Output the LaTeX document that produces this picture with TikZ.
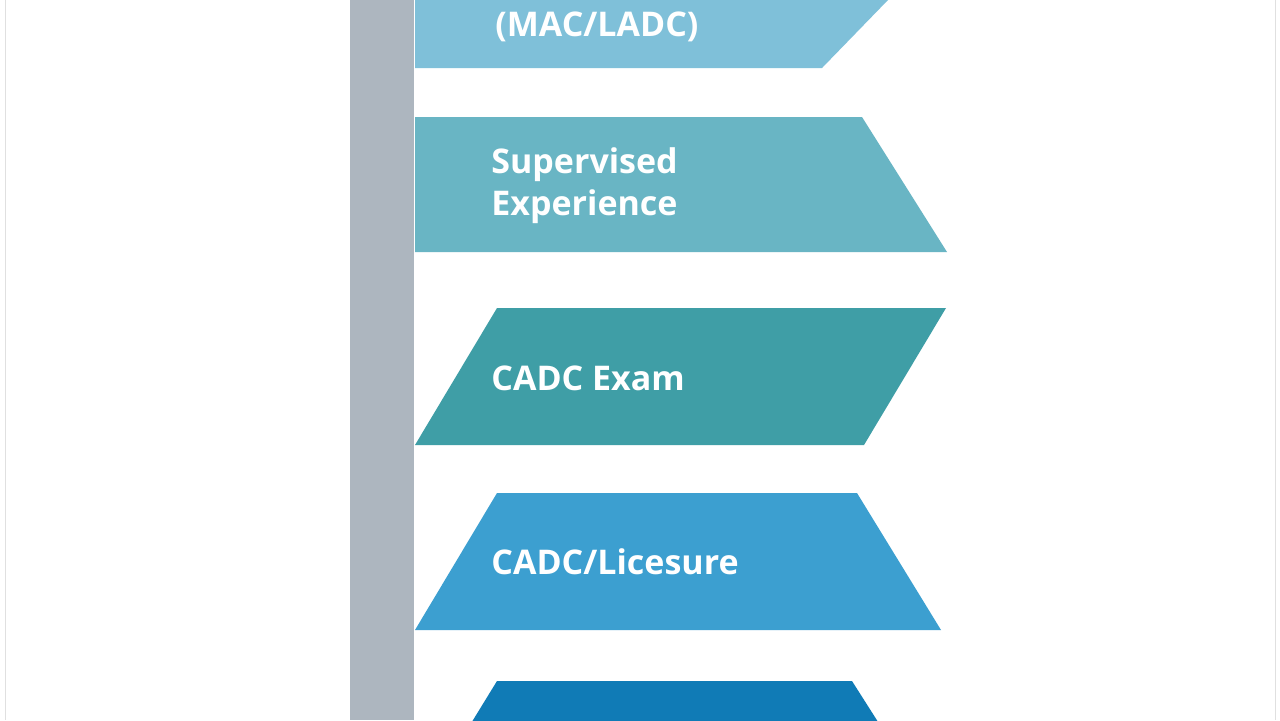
\documentclass[tikz,border=0pt]{standalone}
\usepackage{fontspec}
\setmainfont{Open Sans}
\begin{document}
\begin{tikzpicture}[x=0.5pt,y=-0.5pt,
  lbl/.style={anchor=west,text=white,font=\bfseries\fontsize{17}{21}\selectfont,align=left,inner sep=0pt}]
\definecolor{c1}{HTML}{7FC0D9}
\definecolor{c2}{HTML}{69B5C4}
\definecolor{c3}{HTML}{3F9EA6}
\definecolor{c4}{HTML}{3C9FD0}
\definecolor{c5}{HTML}{107BB6}
\definecolor{bar}{HTML}{ADB6BF}
\useasboundingbox (0,0) rectangle (1280,720);
\fill[white] (0,0) rectangle (1280,720);
\draw[black!12] (5,0) -- (5,720);
\draw[black!12] (1275,0) -- (1275,720);
\fill[bar] (350,0) rectangle (414,720);
\fill[c1] (415,0) -- (888,0) -- (822,68) -- (415,68) -- cycle;
\fill[c2] (415,117) -- (862,117) -- (947,252) -- (415,252) -- cycle;
\fill[c3] (497,308) -- (946,308) -- (864,445) -- (415,445) -- cycle;
\fill[c4] (497,493) -- (857,493) -- (941,630) -- (415,630) -- cycle;
\fill[c5] (497,681) -- (852,681) -- (880,725) -- (470,725) -- cycle;
\node[lbl] (t1) at (495,27) {(MAC/LADC)};
\node[lbl] (t2) at (491,186) {Supervised\\Experience};
\node[lbl] (t3) at (491,378) {CADC Exam};
\node[lbl] (t4) at (491,562) {CADC/Licesure};
\end{tikzpicture}
\end{document}
